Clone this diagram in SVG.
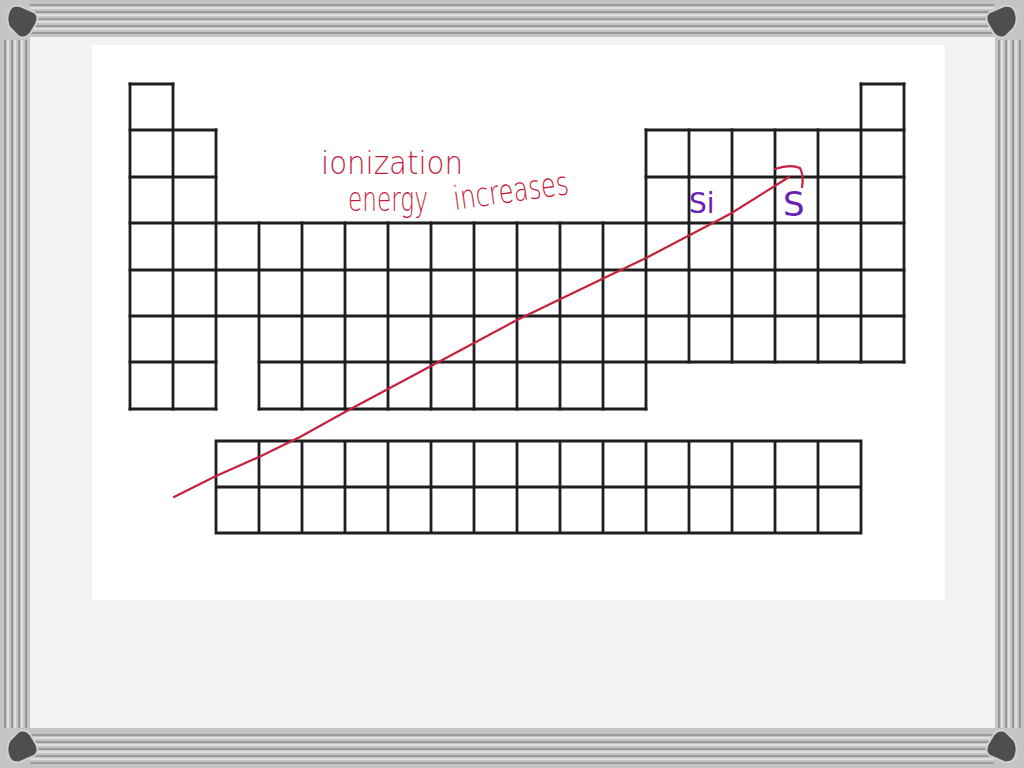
<svg xmlns="http://www.w3.org/2000/svg" width="1024" height="768" viewBox="0 0 1024 768">
<style>
.g{fill:none;stroke:#1e1e1e;stroke-width:2.8;stroke-linecap:square}
.st{stroke-width:1.6;fill:none}
.d{stroke:#8c8c8c}
.l{stroke:#e6e6e6}
.red{fill:none;stroke:#c8213f;stroke-width:2.2;stroke-linecap:round;stroke-linejoin:round}
.rt{fill:#c41e3c;font-family:"DejaVu Sans",sans-serif;font-weight:300}
.pt{fill:#6a22b4;font-family:"DejaVu Sans",sans-serif}
.cap{fill:#4e4e4e;stroke:#d0d0d0;stroke-width:2}
</style>
<g id="frame">
<rect x="0" y="0" width="1024" height="768" fill="#c4c4c4"/>
<g class="st d">
<path d="M30 5H994M30 12H994M30 19H994M30 26H994M30 33H994"/>
<path d="M30 735H994M30 742H994M30 749H994M30 756H994M30 763H994"/>
<path d="M5 40V728M12 40V728M19 40V728M26 40V728"/>
<path d="M999 40V728M1006 40V728M1013 40V728M1020 40V728"/>
</g>
<g class="st l">
<path d="M30 8H994M30 15H994M30 22H994M30 29H994"/>
<path d="M30 738H994M30 745H994M30 752H994M30 759H994"/>
<path d="M8 40V728M15 40V728M22 40V728"/>
<path d="M1002 40V728M1009 40V728M1016 40V728"/>
</g>
<rect x="30" y="37" width="965" height="691" fill="#f2f2f2"/>
<path class="cap" d="M8 14Q10 4 20 6L34 12Q40 16 36 24L30 34Q24 40 18 36L10 28Q6 22 8 14Z"/>
<path class="cap" d="M1016 14Q1014 4 1004 6L990 12Q984 16 988 24L994 34Q1000 40 1006 36L1014 28Q1018 22 1016 14Z"/>
<path class="cap" d="M8 754Q10 764 20 762L34 756Q40 752 36 744L30 734Q24 728 18 732L10 740Q6 746 8 754Z"/>
<path class="cap" d="M1016 754Q1014 764 1004 762L990 756Q984 752 988 744L994 734Q1000 728 1006 732L1014 740Q1018 746 1016 754Z"/>
</g>
<rect id="board" x="92" y="45" width="853" height="555" fill="#ffffff"/>
<g id="main-table">
<path class="g" d="M130 84V409M173 84V409M216 130V409M259 223V409M302 223V409M345 223V409M388 223V409M431 223V409M474 223V409M517 223V409M560 223V409M603 223V409M646 130V409M689 130V362M732 130V362M775 130V362M818 130V362M861 84V362M904 84V362"/>
<path class="g" d="M130 84H173M861 84H904M130 130H216M646 130H904M130 177H216M646 177H904M130 223H904M130 270H904M130 316H904M130 362H216M259 362H904M130 409H216M259 409H646"/>
</g>
<g id="f-block">
<path class="g" d="M216 441H861M216 487H861M216 533H861M216 441V533M259 441V533M302 441V533M345 441V533M388 441V533M431 441V533M474 441V533M517 441V533M560 441V533M603 441V533M646 441V533M689 441V533M732 441V533M775 441V533M818 441V533M861 441V533"/>
</g>
<g id="annotation">
<path class="red" d="M174 497L216 476L259 457L300 437L345 412L431 366L517 320L600 280L646 258L730 214L789 177"/>
<path class="red" d="M775 169Q790 164 800 168Q804 176 802 187"/>
<text class="rt" x="321" y="174" font-size="32" textLength="142" lengthAdjust="spacingAndGlyphs">ionization</text>
<text class="rt" x="348" y="211" font-size="34" textLength="80" lengthAdjust="spacingAndGlyphs">energy</text>
<text class="rt" x="455" y="210" font-size="33" textLength="116" lengthAdjust="spacingAndGlyphs" transform="rotate(-8 455 210)">increases</text>
<text class="pt" x="689" y="213" font-size="28">Si</text>
<text class="pt" x="783" y="216" font-size="34">S</text>
</g>
</svg>
